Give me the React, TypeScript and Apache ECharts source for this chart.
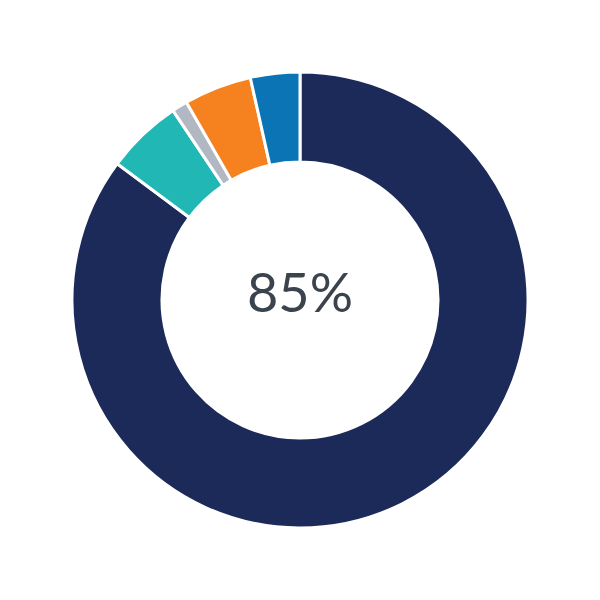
import React, { useEffect, useRef } from "react";
import * as echarts from "echarts";

const categories = ["A", "B", "C", "D", "E"];
const values = [85.2, 5.4, 1.1, 4.8, 3.5];
const colors = ["#1c2a5a", "#21b7b5", "#b1b7c3", "#f5821f", "#0a74b5"];
const centerLabel = "85%";

export default function App() {
  const ref = useRef<HTMLDivElement>(null);
  useEffect(() => {
    if (!ref.current) return;
    const chart = echarts.init(ref.current, undefined, { renderer: "svg" });
    chart.setOption({
      animation: false,
      color: colors,
      graphic: [
        {
          type: "text",
          x: 300,
          y: 291,
          style: {
            text: centerLabel,
            fontFamily: "Lato",
            fontSize: 54,
            fill: "#3b444d",
            align: "center",
            verticalAlign: "middle",
          },
        },
      ],
      series: [
        {
          type: "pie",
          center: [300, 300],
          radius: [138, 228],
          startAngle: 90,
          clockwise: true,
          label: { show: false },
          labelLine: { show: false },
          emphasis: { disabled: true },
          itemStyle: { borderColor: "#ffffff", borderWidth: 3 },
          data: categories.map((c, i) => ({ name: c, value: values[i] })),
        },
      ],
    });
    return () => chart.dispose();
  }, []);
  return (
    <div
      ref={ref}
      style={{ position: "absolute", left: 0, top: 0, width: 600, height: 600, background: "#fff" }}
    />
  );
}
